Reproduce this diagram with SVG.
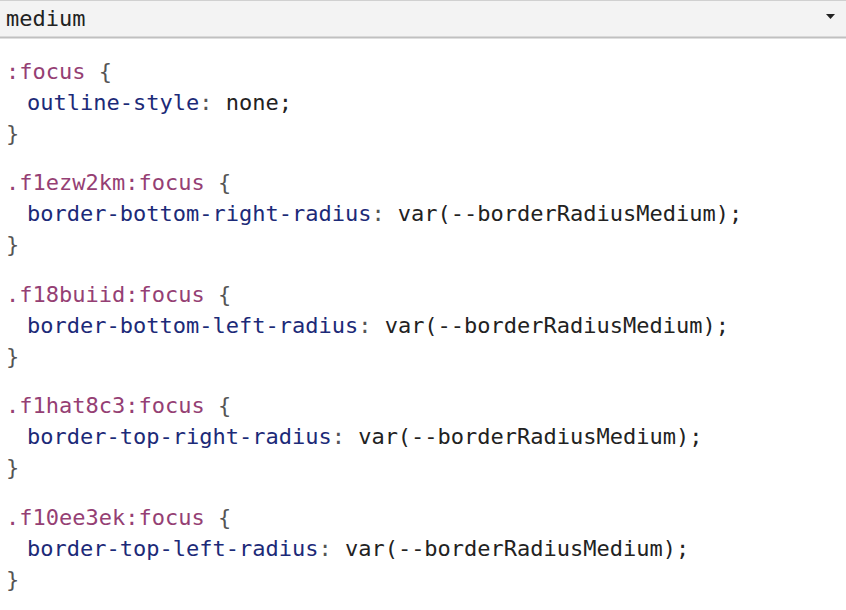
<svg xmlns="http://www.w3.org/2000/svg" width="846" height="610" viewBox="0 0 846 610">
<style>
text{font-family:"DejaVu Sans Mono","Liberation Mono",monospace;font-size:22px;white-space:pre}
.s{fill:#953f74}.p{fill:#1c2a78}.v{fill:#222}.b{fill:#555}
</style>
<rect width="846" height="610" fill="#fff"/>
<g id="header">
<rect x="0" y="0" width="846" height="37" fill="#f3f3f3"/>
<line x1="0" y1="0.5" x2="846" y2="0.5" stroke="#d0d0d0"/>
<line x1="0" y1="37.5" x2="846" y2="37.5" stroke="#c0c0c0" stroke-width="2"/>
<text x="6" y="26" class="v">medium</text>
<path d="M826 14h9l-4.5 5z" fill="#222"/>
</g>
<g id="b1"><text x="6" y="79"><tspan class="s">:focus</tspan><tspan class="b"> {</tspan></text>
<text x="27" y="110"><tspan class="p">outline-style</tspan><tspan class="b">:</tspan><tspan class="v"> none;</tspan></text>
<text x="6" y="141" class="b">}</text></g>
<g id="b2"><text x="6" y="190"><tspan class="s">.f1ezw2km:focus</tspan><tspan class="b"> {</tspan></text>
<text x="27" y="221"><tspan class="p">border-bottom-right-radius</tspan><tspan class="b">:</tspan><tspan class="v"> var(--borderRadiusMedium);</tspan></text>
<text x="6" y="252" class="b">}</text></g>
<g id="b3"><text x="6" y="302"><tspan class="s">.f18buiid:focus</tspan><tspan class="b"> {</tspan></text>
<text x="27" y="333"><tspan class="p">border-bottom-left-radius</tspan><tspan class="b">:</tspan><tspan class="v"> var(--borderRadiusMedium);</tspan></text>
<text x="6" y="364" class="b">}</text></g>
<g id="b4"><text x="6" y="413"><tspan class="s">.f1hat8c3:focus</tspan><tspan class="b"> {</tspan></text>
<text x="27" y="444"><tspan class="p">border-top-right-radius</tspan><tspan class="b">:</tspan><tspan class="v"> var(--borderRadiusMedium);</tspan></text>
<text x="6" y="475" class="b">}</text></g>
<g id="b5"><text x="6" y="525"><tspan class="s">.f10ee3ek:focus</tspan><tspan class="b"> {</tspan></text>
<text x="27" y="556"><tspan class="p">border-top-left-radius</tspan><tspan class="b">:</tspan><tspan class="v"> var(--borderRadiusMedium);</tspan></text>
<text x="6" y="587" class="b">}</text></g>
<g id="connectors"/>
</svg>
